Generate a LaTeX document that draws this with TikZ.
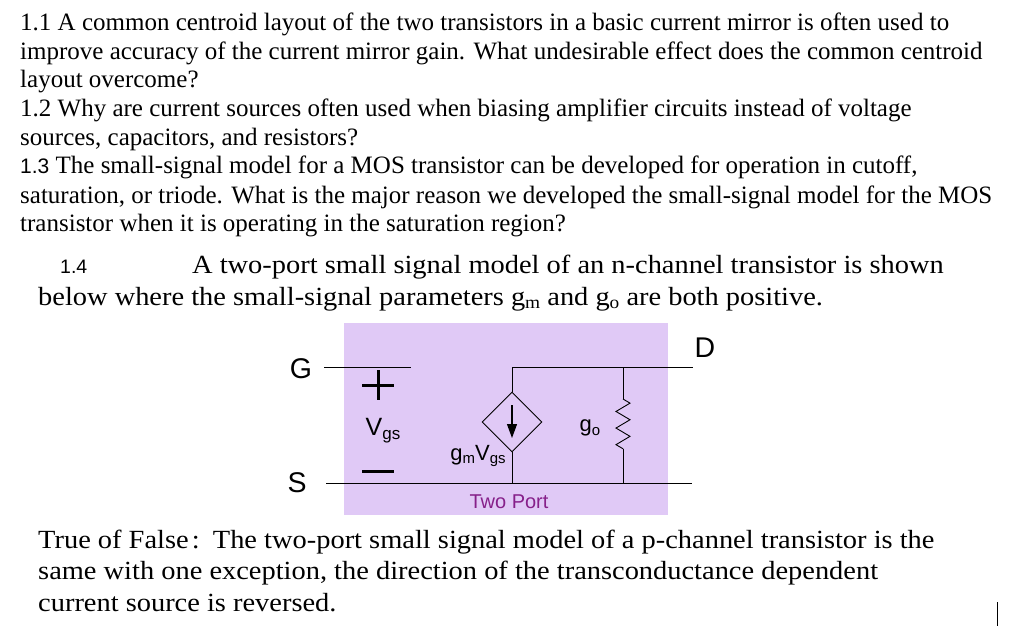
\documentclass[tikz,border=0pt]{standalone}
\usepackage{fontspec}
\usepackage{tikz}
\usetikzlibrary{arrows.meta, shapes, shapes.geometric, positioning, decorations.pathmorphing}
\setmainfont{Liberation Serif}
\newfontfamily\bookfont[FakeStretch=1.085]{Liberation Serif}
\newfontfamily\labelfont{Liberation Sans}
\definecolor{portfill}{HTML}{E0C9F6}
\definecolor{portlabel}{HTML}{86208A}
\newcommand{\sbs}[1]{\raisebox{-.3ex}{\scalebox{.68}{#1}}}

\begin{document}
\begin{tikzpicture}[x=1pt,y=-1pt,>={Stealth[inset=0pt,length=14pt,width=10pt]},
        wire/.style={draw=black,line width=.9pt},
        question/.style={anchor=base west,inner sep=0pt,font=\fontsize{25}{30}\selectfont},
        book/.style={anchor=base west,inner sep=0pt,font=\bookfont\fontsize{26.2}{31}\selectfont},
        term/.style={inner sep=0pt,font=\labelfont\fontsize{28.5}{32}\selectfont},
        param/.style={inner sep=0pt,font=\labelfont\fontsize{22}{26}\selectfont}]
    \useasboundingbox (0,0) rectangle (1024,629);

    % questions
    \node [question] (q1a) at (20,30) {1.1 A common centroid layout of the two transistors in a basic current mirror is often used to};
    \node [question] (q1b) at (20,59) {improve accuracy of the current mirror gain. What undesirable effect does the common centroid};
    \node [question] (q1c) at (20,87) {layout overcome?};
    \node [question] (q2a) at (20,116) {1.2 Why are current sources often used when biasing amplifier circuits instead of voltage};
    \node [question] (q2b) at (20,145) {sources, capacitors, and resistors?};
    \node [question] (q3a) at (20,173) {{\labelfont\fontsize{21}{28}\selectfont 1.3} The small-signal model for a MOS transistor can be developed for operation in cutoff,};
    \node [question] (q3b) at (20,203) {saturation, or triode. What is the major reason we developed the small-signal model for the MOS};
    \node [question] (q3c) at (20,231) {transistor when it is operating in the saturation region?};
    \node [anchor=base west,inner sep=0pt,font=\labelfont\fontsize{19.5}{22}\selectfont] (q4num) at (60,273) {1.4};
    \node [book] (q4a) at (192,273) {A two-port small signal model of an n-channel transistor is shown};
    \node [book] (q4b) at (38,305) {below where the small-signal parameters g\sbs{m} and g\sbs{o} are both positive.};

    % two port
    \node [fill=portfill,minimum width=324pt,minimum height=192pt,inner sep=0pt] (port) at (506,419) {};
    \node [term] (G) at (301,369) {G};
    \node [term] (D) at (705,348) {D};
    \node [term] (S) at (297,483) {S};
    \coordinate (gleft) at (324,367);
    \coordinate (gright) at (411,367);
    \coordinate (dtop) at (512,367);
    \coordinate (rtop) at (623,367);
    \coordinate (dright) at (693,367);
    \coordinate (sleft) at (326,483);
    \coordinate (sbot) at (512,483);
    \coordinate (rbot) at (623,483);
    \coordinate (sright) at (692,483);
    \draw [wire] (gleft) -- (gright);
    \draw [wire] (dtop) -- (dright);
    \draw [wire] (sleft) -- (sright);

    % dependent source
    \node [diamond,wire,minimum width=60pt,minimum height=60pt,inner sep=0pt] (gmsrc) at (512,422) {};
    \draw [wire] (dtop) -- (gmsrc.north);
    \draw [wire] (gmsrc.south) -- (sbot);
    \coordinate (srctail) at (512,405);
    \coordinate (srchead) at (512,438);
    \draw [->,line width=1.1pt] (srctail) -- (srchead);
    \node [param] (gmvgs) at (478,456) {g\sbs{m}V\sbs{gs}};

    % output conductance
    \coordinate (ztop) at (623,399);
    \coordinate (zbot) at (623,449);
    \draw [wire] (rtop) -- (ztop);
    \draw [wire,decorate,decoration={zigzag,amplitude=7pt,segment length=16.6pt}] (ztop) -- (zbot);
    \draw [wire] (zbot) -- (rbot);
    \node [param] (go) at (590,428) {g\sbs{o}};

    % input port
    \coordinate (plusl) at (362,385);
    \coordinate (plusr) at (394,385);
    \coordinate (plust) at (378,370);
    \coordinate (plusb) at (378,400);
    \coordinate (minusl) at (362,471);
    \coordinate (minusr) at (394,471);
    \draw [line width=3pt] (plusl) -- (plusr);
    \draw [line width=3pt] (plust) -- (plusb);
    \draw [line width=3pt] (minusl) -- (minusr);
    \node [param,font=\labelfont\fontsize{25}{30}\selectfont] (vgs) at (383,431) {V\sbs{gs}};
    \node [inner sep=0pt,text=portlabel,font=\labelfont\fontsize{20}{24}\selectfont] (twoport) at (509,502) {Two Port};

    % true or false
    \node [book] (q5a) at (38,548) {True of False\hspace{.12em}:\hspace{.5em}The two-port small signal model of a p-channel transistor is the};
    \node [book] (q5b) at (38,579) {same with one exception, the direction of the transconductance dependent};
    \node [book] (q5c) at (38,611) {current source is reversed.};
    \coordinate (cursortop) at (997,602);
    \coordinate (cursorbot) at (997,626);
    \draw [line width=.8pt] (cursortop) -- (cursorbot);
\end{tikzpicture}
\end{document}
